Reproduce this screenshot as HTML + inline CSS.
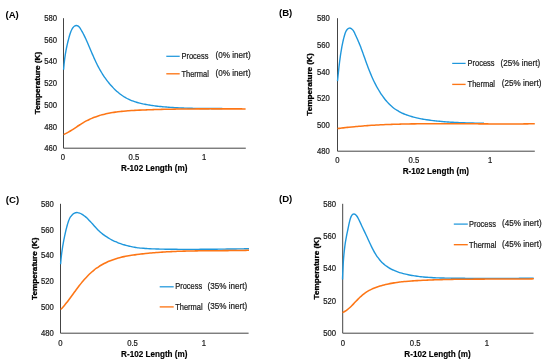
<!DOCTYPE html>
<html><head><meta charset="utf-8"><title>Temperature profiles</title>
<style>
html,body{margin:0;padding:0;background:#fff;}
svg{display:block;}
text{font-family:"Liberation Sans",sans-serif;fill:#1a1a1a;stroke:#1a1a1a;stroke-width:0.22px;}
.t{font-size:8.5px;}
.b{font-size:8.15px;font-weight:bold;fill:#000;stroke:#000;stroke-width:0.15px;}
.p{font-size:9.6px;font-weight:bold;fill:#000;stroke:none;}
.l1{font-size:8.4px;}
.l2{font-size:9.1px;}
</style></head><body>
<svg width="550" height="364" viewBox="0 0 550 364">
<rect width="550" height="364" fill="#fff"/>
<g>
<text class="p" x="5.5" y="17.7">(A)</text>
<text class="t" text-anchor="end" transform="translate(57.1 21.00) scale(0.905 1)">580</text>
<text class="t" text-anchor="end" transform="translate(57.1 42.70) scale(0.905 1)">560</text>
<text class="t" text-anchor="end" transform="translate(57.1 64.40) scale(0.905 1)">540</text>
<text class="t" text-anchor="end" transform="translate(57.1 86.10) scale(0.905 1)">520</text>
<text class="t" text-anchor="end" transform="translate(57.1 107.80) scale(0.905 1)">500</text>
<text class="t" text-anchor="end" transform="translate(57.1 129.50) scale(0.905 1)">480</text>
<text class="t" text-anchor="end" transform="translate(57.1 151.20) scale(0.905 1)">460</text>
<text class="t" text-anchor="middle" transform="translate(63.0 160.20) scale(0.905 1)">0</text>
<text class="t" text-anchor="middle" transform="translate(133.9 160.20) scale(0.905 1)">0.5</text>
<text class="t" text-anchor="middle" transform="translate(204.2 160.20) scale(0.905 1)">1</text>
<text class="b" text-anchor="middle" x="154.2" y="171.3">R-102 Length (m)</text>
<text class="b" style="font-size:6.8px;stroke-width:0.3px" text-anchor="middle" transform="translate(40.4 83.0) rotate(-90) scale(1.2 1)">Temperature (K)</text>
<path d="M63.5 18.2 V148.2 H245.8" fill="none" stroke="#444444" stroke-width="1"/>
<path d="M63.60 69.70 C63.63 69.34 63.71 68.27 63.77 67.55 C63.83 66.84 63.90 66.12 63.97 65.40 C64.03 64.69 64.11 63.97 64.18 63.26 C64.26 62.54 64.34 61.83 64.42 61.12 C64.50 60.40 64.59 59.69 64.68 58.98 C64.78 58.27 64.87 57.55 64.97 56.84 C65.07 56.13 65.18 55.42 65.29 54.71 C65.40 54.00 65.52 53.29 65.64 52.58 C65.76 51.88 65.88 51.17 66.01 50.46 C66.14 49.76 66.28 49.05 66.42 48.35 C66.56 47.64 66.71 46.94 66.86 46.24 C67.01 45.53 67.17 44.83 67.33 44.13 C67.49 43.43 67.66 42.73 67.83 42.03 C68.00 41.34 68.18 40.64 68.36 39.94 C68.54 39.25 68.72 38.55 68.91 37.86 C69.09 37.17 69.28 36.47 69.48 35.78 C69.67 35.09 69.87 34.40 70.09 33.72 C70.31 33.04 70.54 32.36 70.81 31.69 C71.08 31.03 71.36 30.37 71.69 29.73 C72.03 29.08 72.38 28.42 72.80 27.84 C73.23 27.25 73.69 26.60 74.27 26.21 C74.84 25.82 75.59 25.52 76.26 25.50 C76.93 25.47 77.70 25.73 78.28 26.09 C78.86 26.45 79.28 27.09 79.71 27.66 C80.15 28.23 80.51 28.88 80.89 29.50 C81.27 30.12 81.64 30.75 81.99 31.37 C82.35 32.00 82.70 32.63 83.03 33.27 C83.37 33.90 83.70 34.54 84.02 35.18 C84.34 35.82 84.65 36.46 84.96 37.11 C85.27 37.76 85.57 38.41 85.87 39.06 C86.17 39.71 86.47 40.36 86.76 41.02 C87.05 41.67 87.34 42.33 87.63 42.98 C87.92 43.64 88.20 44.30 88.48 44.96 C88.77 45.62 89.05 46.28 89.33 46.95 C89.61 47.61 89.89 48.27 90.17 48.93 C90.45 49.60 90.73 50.26 91.01 50.92 C91.29 51.59 91.57 52.25 91.86 52.91 C92.14 53.57 92.42 54.24 92.71 54.90 C92.99 55.56 93.28 56.22 93.57 56.88 C93.86 57.54 94.15 58.19 94.45 58.85 C94.74 59.50 95.04 60.16 95.34 60.81 C95.65 61.46 95.95 62.11 96.27 62.76 C96.58 63.41 96.89 64.05 97.21 64.70 C97.54 65.34 97.86 65.98 98.19 66.61 C98.53 67.25 98.87 67.88 99.21 68.51 C99.56 69.14 99.91 69.77 100.26 70.39 C100.62 71.01 100.98 71.63 101.35 72.24 C101.72 72.86 102.10 73.47 102.48 74.07 C102.87 74.68 103.26 75.28 103.65 75.88 C104.05 76.47 104.45 77.07 104.86 77.65 C105.27 78.24 105.69 78.82 106.12 79.40 C106.54 79.97 106.97 80.55 107.41 81.11 C107.85 81.68 108.30 82.24 108.75 82.79 C109.20 83.35 109.67 83.90 110.13 84.44 C110.60 84.98 111.08 85.52 111.56 86.05 C112.05 86.58 112.54 87.10 113.04 87.62 C113.54 88.13 114.05 88.65 114.57 89.15 C115.08 89.65 115.61 90.15 116.14 90.64 C116.67 91.12 117.21 91.60 117.76 92.08 C118.31 92.55 118.87 93.01 119.43 93.46 C120.00 93.91 120.57 94.35 121.15 94.78 C121.73 95.20 122.32 95.62 122.92 96.02 C123.52 96.42 124.12 96.81 124.73 97.18 C125.35 97.56 125.97 97.91 126.60 98.26 C127.23 98.60 127.87 98.92 128.51 99.23 C129.15 99.54 129.81 99.83 130.47 100.11 C131.13 100.39 131.79 100.65 132.46 100.90 C133.13 101.15 133.81 101.38 134.49 101.60 C135.17 101.83 135.86 102.04 136.55 102.24 C137.23 102.44 137.93 102.63 138.62 102.82 C139.32 103.00 140.01 103.17 140.71 103.34 C141.41 103.51 142.11 103.67 142.81 103.82 C143.52 103.98 144.22 104.12 144.92 104.27 C145.63 104.41 146.33 104.54 147.04 104.67 C147.75 104.80 148.45 104.92 149.16 105.04 C149.87 105.16 150.58 105.27 151.29 105.38 C152.00 105.48 152.72 105.59 153.43 105.68 C154.14 105.78 154.85 105.88 155.57 105.97 C156.28 106.06 156.99 106.14 157.71 106.22 C158.42 106.30 159.14 106.38 159.85 106.46 C160.57 106.53 161.28 106.60 162.00 106.67 C162.72 106.74 163.43 106.81 164.15 106.87 C164.86 106.94 165.58 107.00 166.30 107.06 C167.01 107.12 167.73 107.17 168.44 107.23 C169.16 107.28 169.88 107.33 170.59 107.38 C171.31 107.43 172.03 107.48 172.74 107.53 C173.46 107.57 174.18 107.61 174.90 107.66 C175.61 107.70 176.33 107.74 177.05 107.77 C177.76 107.81 178.48 107.84 179.20 107.88 C179.92 107.91 180.63 107.94 181.35 107.97 C182.07 108.00 182.79 108.03 183.50 108.06 C184.22 108.08 184.94 108.11 185.66 108.13 C186.38 108.16 187.09 108.18 187.81 108.20 C188.53 108.22 189.25 108.24 189.97 108.25 C190.68 108.27 191.40 108.29 192.12 108.30 C192.84 108.32 193.56 108.33 194.28 108.35 C194.99 108.36 195.71 108.37 196.43 108.38 C197.15 108.39 197.87 108.40 198.59 108.41 C199.30 108.42 200.02 108.43 200.74 108.43 C201.46 108.44 202.18 108.45 202.90 108.45 C203.62 108.46 204.33 108.46 205.05 108.47 C205.77 108.47 206.49 108.47 207.21 108.48 C207.93 108.48 208.65 108.48 209.36 108.48 C210.08 108.49 210.80 108.49 211.52 108.49 C212.24 108.49 212.96 108.49 213.68 108.49 C214.40 108.49 215.11 108.49 215.83 108.49 C216.55 108.50 217.27 108.50 217.99 108.50 C218.71 108.50 219.43 108.50 220.14 108.50 C220.86 108.50 221.94 108.50 222.30 108.50" fill="none" stroke="#1f97dc" stroke-width="1.4" stroke-linecap="butt" stroke-linejoin="round"/>
<path d="M63.60 134.60 C64.01 134.41 65.23 133.84 66.03 133.42 C66.83 133.01 67.62 132.57 68.40 132.13 C69.18 131.68 69.95 131.21 70.73 130.73 C71.50 130.26 72.26 129.77 73.02 129.28 C73.78 128.78 74.54 128.28 75.30 127.78 C76.06 127.28 76.81 126.77 77.57 126.27 C78.33 125.77 79.09 125.26 79.85 124.77 C80.62 124.28 81.38 123.79 82.16 123.32 C82.93 122.84 83.71 122.37 84.49 121.93 C85.28 121.48 86.07 121.04 86.88 120.63 C87.68 120.21 88.49 119.82 89.31 119.43 C90.13 119.05 90.96 118.69 91.79 118.34 C92.62 117.99 93.46 117.65 94.30 117.33 C95.15 117.01 96.00 116.71 96.85 116.42 C97.71 116.13 98.57 115.85 99.43 115.59 C100.29 115.33 101.16 115.08 102.03 114.84 C102.90 114.61 103.77 114.38 104.64 114.17 C105.52 113.96 106.40 113.76 107.28 113.57 C108.16 113.38 109.04 113.20 109.92 113.03 C110.81 112.86 111.70 112.71 112.59 112.56 C113.48 112.41 114.37 112.27 115.26 112.14 C116.15 112.01 117.05 111.89 117.94 111.77 C118.84 111.66 119.74 111.55 120.64 111.45 C121.54 111.36 122.44 111.26 123.34 111.18 C124.24 111.09 125.15 111.01 126.05 110.94 C126.96 110.86 127.86 110.80 128.77 110.73 C129.67 110.67 130.58 110.61 131.49 110.55 C132.39 110.50 133.30 110.44 134.21 110.40 C135.12 110.35 136.03 110.30 136.94 110.26 C137.84 110.21 138.75 110.17 139.66 110.13 C140.57 110.09 141.48 110.05 142.39 110.02 C143.29 109.98 144.20 109.94 145.11 109.91 C146.02 109.87 146.92 109.84 147.83 109.81 C148.74 109.77 149.64 109.74 150.55 109.71 C151.46 109.68 152.36 109.65 153.27 109.62 C154.18 109.59 155.08 109.57 155.99 109.54 C156.90 109.51 157.80 109.49 158.71 109.46 C159.61 109.44 160.52 109.41 161.42 109.39 C162.33 109.37 163.24 109.35 164.14 109.32 C165.05 109.30 165.95 109.28 166.86 109.26 C167.76 109.24 168.67 109.23 169.57 109.21 C170.48 109.19 171.38 109.17 172.29 109.16 C173.19 109.14 174.09 109.13 175.00 109.11 C175.90 109.10 176.81 109.08 177.71 109.07 C178.62 109.06 179.52 109.05 180.43 109.04 C181.33 109.02 182.23 109.01 183.14 109.00 C184.04 108.99 184.95 108.98 185.85 108.97 C186.75 108.96 187.66 108.96 188.56 108.95 C189.47 108.94 190.37 108.93 191.27 108.93 C192.18 108.92 193.08 108.91 193.99 108.91 C194.89 108.90 195.79 108.90 196.70 108.89 C197.60 108.89 198.51 108.88 199.41 108.88 C200.32 108.88 201.22 108.87 202.12 108.87 C203.03 108.87 203.93 108.86 204.84 108.86 C205.74 108.86 206.64 108.86 207.55 108.86 C208.45 108.86 209.36 108.85 210.26 108.85 C211.17 108.85 212.07 108.85 212.98 108.85 C213.88 108.85 214.79 108.85 215.69 108.85 C216.60 108.85 217.50 108.85 218.41 108.85 C219.31 108.86 220.22 108.86 221.12 108.86 C222.03 108.86 222.93 108.86 223.84 108.86 C224.74 108.86 225.65 108.86 226.55 108.87 C227.46 108.87 228.37 108.87 229.27 108.87 C230.18 108.87 231.08 108.87 231.99 108.88 C232.90 108.88 233.80 108.88 234.71 108.88 C235.62 108.88 236.52 108.89 237.43 108.89 C238.34 108.89 239.25 108.89 240.15 108.89 C241.06 108.89 241.97 108.90 242.88 108.90 C243.78 108.90 245.15 108.90 245.60 108.90" fill="none" stroke="#fd7616" stroke-width="1.55" stroke-linecap="butt" stroke-linejoin="round"/>
<line x1="166.3" y1="56.3" x2="179.7" y2="56.3" stroke="#1f97dc" stroke-width="1.25"/>
<text class="l1" transform="translate(181.5 58.80) scale(0.89 1)">Process</text>
<text class="l2" transform="translate(215.5 58.10) scale(0.89 1)">(0% inert)</text>
<line x1="166.3" y1="73.8" x2="179.7" y2="73.8" stroke="#fd7616" stroke-width="1.35"/>
<text class="l1" transform="translate(181.5 76.60) scale(0.89 1)">Thermal</text>
<text class="l2" transform="translate(215.5 75.90) scale(0.89 1)">(0% inert)</text>
</g>
<g>
<text class="p" x="279.0" y="16.4">(B)</text>
<text class="t" text-anchor="end" transform="translate(329.9 21.30) scale(0.905 1)">580</text>
<text class="t" text-anchor="end" transform="translate(329.9 47.90) scale(0.905 1)">560</text>
<text class="t" text-anchor="end" transform="translate(329.9 74.50) scale(0.905 1)">540</text>
<text class="t" text-anchor="end" transform="translate(329.9 101.10) scale(0.905 1)">520</text>
<text class="t" text-anchor="end" transform="translate(329.9 127.70) scale(0.905 1)">500</text>
<text class="t" text-anchor="end" transform="translate(329.9 154.30) scale(0.905 1)">480</text>
<text class="t" text-anchor="middle" transform="translate(337.3 163.00) scale(0.905 1)">0</text>
<text class="t" text-anchor="middle" transform="translate(413.9 163.00) scale(0.905 1)">0.5</text>
<text class="t" text-anchor="middle" transform="translate(490.2 163.00) scale(0.905 1)">1</text>
<text class="b" text-anchor="middle" x="435.9" y="174.2">R-102 Length (m)</text>
<text class="b" style="font-size:6.8px;stroke-width:0.3px" text-anchor="middle" transform="translate(312.3 84.5) rotate(-90) scale(1.2 1)">Temperature (K)</text>
<path d="M337.5 18.2 V151.2 H534.8" fill="none" stroke="#444444" stroke-width="1"/>
<path d="M337.50 81.10 C337.54 80.73 337.65 79.64 337.72 78.91 C337.80 78.17 337.87 77.44 337.95 76.71 C338.02 75.97 338.10 75.24 338.18 74.51 C338.25 73.77 338.33 73.04 338.41 72.30 C338.48 71.57 338.56 70.83 338.64 70.10 C338.72 69.36 338.80 68.63 338.89 67.89 C338.97 67.16 339.05 66.42 339.14 65.69 C339.22 64.95 339.31 64.22 339.40 63.48 C339.49 62.75 339.58 62.02 339.67 61.28 C339.76 60.55 339.86 59.81 339.96 59.08 C340.06 58.35 340.16 57.62 340.26 56.89 C340.36 56.15 340.47 55.42 340.58 54.69 C340.69 53.96 340.80 53.23 340.91 52.51 C341.03 51.78 341.15 51.05 341.27 50.32 C341.39 49.60 341.52 48.87 341.65 48.15 C341.78 47.43 341.91 46.70 342.05 45.98 C342.19 45.26 342.33 44.54 342.47 43.82 C342.62 43.10 342.77 42.39 342.93 41.67 C343.08 40.96 343.25 40.24 343.42 39.53 C343.59 38.81 343.77 38.10 343.96 37.38 C344.14 36.66 344.34 35.95 344.55 35.23 C344.77 34.51 344.97 33.78 345.24 33.07 C345.52 32.36 345.81 31.63 346.21 30.97 C346.61 30.31 347.10 29.58 347.64 29.10 C348.17 28.62 348.80 28.18 349.40 28.09 C350.01 27.99 350.67 28.19 351.26 28.53 C351.85 28.86 352.45 29.50 352.94 30.10 C353.42 30.70 353.82 31.44 354.19 32.12 C354.55 32.81 354.82 33.53 355.13 34.22 C355.45 34.90 355.76 35.57 356.07 36.24 C356.38 36.91 356.69 37.57 356.99 38.23 C357.30 38.90 357.60 39.57 357.89 40.24 C358.18 40.92 358.47 41.59 358.75 42.27 C359.04 42.95 359.31 43.63 359.59 44.31 C359.86 44.99 360.13 45.68 360.40 46.37 C360.67 47.05 360.93 47.74 361.19 48.43 C361.45 49.12 361.71 49.81 361.96 50.50 C362.22 51.20 362.47 51.89 362.72 52.58 C362.97 53.28 363.22 53.97 363.47 54.67 C363.72 55.36 363.97 56.06 364.22 56.76 C364.47 57.45 364.71 58.15 364.96 58.85 C365.21 59.54 365.46 60.24 365.71 60.94 C365.96 61.63 366.20 62.33 366.46 63.02 C366.71 63.72 366.96 64.41 367.22 65.11 C367.47 65.80 367.73 66.49 367.99 67.19 C368.25 67.88 368.52 68.57 368.78 69.26 C369.05 69.94 369.32 70.63 369.59 71.32 C369.87 72.00 370.15 72.69 370.43 73.37 C370.71 74.05 371.00 74.73 371.29 75.41 C371.58 76.08 371.87 76.76 372.18 77.43 C372.48 78.10 372.78 78.77 373.09 79.44 C373.40 80.11 373.72 80.78 374.04 81.44 C374.36 82.10 374.69 82.76 375.02 83.42 C375.35 84.08 375.69 84.73 376.04 85.38 C376.38 86.03 376.74 86.68 377.09 87.32 C377.45 87.97 377.82 88.61 378.19 89.25 C378.56 89.88 378.94 90.52 379.33 91.15 C379.71 91.78 380.11 92.40 380.51 93.02 C380.91 93.64 381.32 94.26 381.74 94.87 C382.15 95.48 382.58 96.09 383.01 96.69 C383.44 97.29 383.89 97.89 384.34 98.47 C384.79 99.06 385.25 99.64 385.71 100.22 C386.18 100.79 386.66 101.35 387.15 101.90 C387.64 102.46 388.14 103.00 388.65 103.53 C389.16 104.06 389.68 104.58 390.21 105.09 C390.75 105.60 391.29 106.09 391.85 106.57 C392.40 107.05 392.97 107.51 393.55 107.96 C394.13 108.40 394.73 108.84 395.34 109.25 C395.94 109.67 396.56 110.06 397.19 110.45 C397.82 110.83 398.46 111.20 399.11 111.55 C399.76 111.90 400.41 112.24 401.08 112.57 C401.74 112.89 402.42 113.20 403.09 113.50 C403.77 113.80 404.46 114.09 405.15 114.36 C405.83 114.63 406.53 114.89 407.22 115.15 C407.92 115.40 408.62 115.63 409.32 115.86 C410.02 116.09 410.73 116.31 411.43 116.52 C412.14 116.73 412.85 116.92 413.56 117.11 C414.28 117.30 414.99 117.48 415.71 117.66 C416.42 117.83 417.14 117.99 417.86 118.15 C418.58 118.31 419.31 118.46 420.03 118.60 C420.75 118.74 421.48 118.88 422.21 119.01 C422.93 119.14 423.66 119.26 424.39 119.38 C425.12 119.50 425.85 119.62 426.58 119.73 C427.31 119.84 428.04 119.94 428.77 120.04 C429.50 120.15 430.23 120.24 430.96 120.34 C431.70 120.43 432.43 120.52 433.16 120.61 C433.89 120.70 434.63 120.79 435.36 120.87 C436.09 120.95 436.83 121.03 437.56 121.10 C438.30 121.18 439.03 121.25 439.76 121.32 C440.50 121.39 441.23 121.46 441.97 121.53 C442.70 121.59 443.44 121.65 444.17 121.71 C444.91 121.77 445.65 121.83 446.38 121.88 C447.12 121.94 447.85 121.99 448.59 122.04 C449.33 122.09 450.06 122.14 450.80 122.18 C451.54 122.23 452.27 122.27 453.01 122.31 C453.75 122.36 454.49 122.39 455.22 122.43 C455.96 122.47 456.70 122.51 457.44 122.54 C458.17 122.58 458.91 122.61 459.65 122.64 C460.39 122.67 461.12 122.70 461.86 122.73 C462.60 122.76 463.34 122.78 464.08 122.81 C464.81 122.83 465.55 122.86 466.29 122.88 C467.03 122.90 467.77 122.93 468.51 122.95 C469.24 122.97 469.98 122.99 470.72 123.01 C471.46 123.03 472.20 123.05 472.93 123.06 C473.67 123.08 474.41 123.10 475.15 123.12 C475.89 123.13 476.62 123.15 477.36 123.16 C478.10 123.18 478.84 123.20 479.58 123.21 C480.31 123.23 481.05 123.24 481.79 123.26 C482.53 123.27 483.63 123.29 484.00 123.30" fill="none" stroke="#1f97dc" stroke-width="1.4" stroke-linecap="butt" stroke-linejoin="round"/>
<path d="M337.50 128.59 C337.97 128.53 339.39 128.35 340.34 128.23 C341.29 128.11 342.24 128.00 343.19 127.88 C344.13 127.77 345.08 127.66 346.03 127.55 C346.98 127.45 347.93 127.34 348.88 127.24 C349.83 127.14 350.78 127.05 351.72 126.95 C352.67 126.85 353.62 126.76 354.57 126.67 C355.52 126.58 356.47 126.50 357.42 126.41 C358.37 126.33 359.32 126.25 360.27 126.17 C361.22 126.09 362.17 126.01 363.12 125.94 C364.07 125.86 365.03 125.79 365.98 125.72 C366.93 125.65 367.88 125.59 368.83 125.52 C369.78 125.46 370.73 125.40 371.68 125.34 C372.63 125.28 373.59 125.22 374.54 125.16 C375.49 125.11 376.44 125.05 377.39 125.00 C378.34 124.95 379.30 124.90 380.25 124.85 C381.20 124.81 382.15 124.76 383.11 124.72 C384.06 124.67 385.01 124.63 385.96 124.59 C386.92 124.55 387.87 124.51 388.82 124.48 C389.77 124.44 390.73 124.41 391.68 124.37 C392.63 124.34 393.59 124.31 394.54 124.28 C395.49 124.25 396.45 124.22 397.40 124.19 C398.35 124.17 399.31 124.14 400.26 124.12 C401.21 124.09 402.17 124.07 403.12 124.05 C404.07 124.03 405.03 124.01 405.98 123.99 C406.93 123.97 407.89 123.96 408.84 123.94 C409.80 123.92 410.75 123.91 411.70 123.89 C412.66 123.88 413.61 123.87 414.57 123.86 C415.52 123.84 416.47 123.83 417.43 123.82 C418.38 123.81 419.34 123.80 420.29 123.80 C421.25 123.79 422.20 123.78 423.15 123.77 C424.11 123.77 425.06 123.76 426.02 123.75 C426.97 123.75 427.93 123.75 428.88 123.74 C429.83 123.74 430.79 123.73 431.74 123.73 C432.70 123.73 433.65 123.73 434.61 123.72 C435.56 123.72 436.52 123.72 437.47 123.72 C438.42 123.72 439.38 123.72 440.33 123.72 C441.29 123.72 442.24 123.72 443.20 123.72 C444.15 123.72 445.11 123.72 446.06 123.72 C447.01 123.72 447.97 123.73 448.92 123.73 C449.88 123.73 450.83 123.73 451.79 123.74 C452.74 123.74 453.70 123.74 454.65 123.74 C455.61 123.75 456.56 123.75 457.51 123.76 C458.47 123.76 459.42 123.76 460.38 123.77 C461.33 123.77 462.29 123.78 463.24 123.78 C464.20 123.78 465.15 123.79 466.10 123.79 C467.06 123.80 468.01 123.80 468.97 123.81 C469.92 123.81 470.88 123.82 471.83 123.82 C472.79 123.83 473.74 123.83 474.70 123.84 C475.65 123.84 476.60 123.85 477.56 123.85 C478.51 123.86 479.47 123.86 480.42 123.87 C481.38 123.87 482.33 123.87 483.29 123.88 C484.24 123.88 485.19 123.89 486.15 123.89 C487.10 123.90 488.06 123.90 489.01 123.90 C489.97 123.91 490.92 123.91 491.87 123.92 C492.83 123.92 493.78 123.92 494.74 123.93 C495.69 123.93 496.65 123.93 497.60 123.93 C498.55 123.94 499.51 123.94 500.46 123.94 C501.42 123.94 502.37 123.94 503.32 123.94 C504.28 123.94 505.23 123.95 506.19 123.95 C507.14 123.95 508.10 123.95 509.05 123.95 C510.00 123.94 510.96 123.94 511.91 123.94 C512.86 123.94 513.82 123.94 514.77 123.94 C515.73 123.93 516.68 123.93 517.63 123.93 C518.59 123.92 519.54 123.92 520.50 123.91 C521.45 123.91 522.40 123.90 523.36 123.90 C524.31 123.89 525.26 123.89 526.22 123.88 C527.17 123.87 528.13 123.86 529.08 123.85 C530.03 123.85 530.99 123.84 531.94 123.83 C532.89 123.82 534.32 123.80 534.80 123.79" fill="none" stroke="#fd7616" stroke-width="1.55" stroke-linecap="butt" stroke-linejoin="round"/>
<line x1="452.2" y1="63.4" x2="465.6" y2="63.4" stroke="#1f97dc" stroke-width="1.25"/>
<text class="l1" transform="translate(467.6 66.00) scale(0.89 1)">Process</text>
<text class="l2" transform="translate(500.6 65.60) scale(0.89 1)">(25% inert)</text>
<line x1="452.2" y1="84.4" x2="465.6" y2="84.4" stroke="#fd7616" stroke-width="1.35"/>
<text class="l1" transform="translate(467.6 86.50) scale(0.89 1)">Thermal</text>
<text class="l2" transform="translate(501.8 85.90) scale(0.89 1)">(25% inert)</text>
</g>
<g>
<text class="p" x="5.8" y="203.2">(C)</text>
<text class="t" text-anchor="end" transform="translate(53.8 206.60) scale(0.905 1)">580</text>
<text class="t" text-anchor="end" transform="translate(53.8 232.50) scale(0.905 1)">560</text>
<text class="t" text-anchor="end" transform="translate(53.8 258.40) scale(0.905 1)">540</text>
<text class="t" text-anchor="end" transform="translate(53.8 284.30) scale(0.905 1)">520</text>
<text class="t" text-anchor="end" transform="translate(53.8 310.20) scale(0.905 1)">500</text>
<text class="t" text-anchor="end" transform="translate(53.8 336.20) scale(0.905 1)">480</text>
<text class="t" text-anchor="middle" transform="translate(60.3 345.50) scale(0.905 1)">0</text>
<text class="t" text-anchor="middle" transform="translate(132.5 345.50) scale(0.905 1)">0.5</text>
<text class="t" text-anchor="middle" transform="translate(204.0 345.50) scale(0.905 1)">1</text>
<text class="b" text-anchor="middle" x="154.3" y="356.7">R-102 Length (m)</text>
<text class="b" style="font-size:6.8px;stroke-width:0.3px" text-anchor="middle" transform="translate(36.6 268.8) rotate(-90) scale(1.2 1)">Temperature (K)</text>
<path d="M60.5 203.8 V333.2 H248.6" fill="none" stroke="#444444" stroke-width="1"/>
<path d="M60.60 264.20 C60.63 263.83 60.71 262.74 60.77 262.01 C60.83 261.27 60.89 260.54 60.96 259.81 C61.03 259.08 61.10 258.35 61.18 257.62 C61.26 256.89 61.34 256.16 61.43 255.43 C61.51 254.70 61.60 253.98 61.69 253.25 C61.79 252.52 61.89 251.79 61.99 251.06 C62.09 250.34 62.19 249.61 62.30 248.88 C62.41 248.16 62.53 247.43 62.64 246.71 C62.76 245.98 62.88 245.26 63.00 244.53 C63.13 243.81 63.26 243.09 63.39 242.36 C63.52 241.64 63.66 240.92 63.79 240.20 C63.93 239.48 64.08 238.76 64.22 238.04 C64.37 237.32 64.52 236.60 64.67 235.88 C64.82 235.16 64.98 234.45 65.14 233.73 C65.30 233.01 65.46 232.30 65.62 231.58 C65.79 230.87 65.96 230.16 66.13 229.45 C66.31 228.73 66.48 228.02 66.67 227.31 C66.85 226.61 67.04 225.90 67.24 225.20 C67.44 224.49 67.65 223.79 67.87 223.09 C68.09 222.39 68.31 221.70 68.56 221.01 C68.81 220.32 69.06 219.63 69.38 218.96 C69.70 218.29 70.05 217.61 70.47 216.98 C70.89 216.34 71.38 215.71 71.90 215.16 C72.42 214.61 72.99 214.09 73.59 213.69 C74.19 213.30 74.84 212.96 75.50 212.77 C76.16 212.59 76.86 212.52 77.55 212.58 C78.24 212.64 78.97 212.89 79.66 213.15 C80.35 213.41 81.05 213.79 81.70 214.15 C82.36 214.52 82.98 214.92 83.59 215.34 C84.20 215.76 84.78 216.20 85.35 216.66 C85.92 217.13 86.47 217.61 87.00 218.11 C87.54 218.60 88.06 219.12 88.57 219.64 C89.08 220.16 89.58 220.70 90.08 221.24 C90.58 221.78 91.07 222.33 91.56 222.87 C92.05 223.42 92.53 223.98 93.03 224.53 C93.52 225.08 94.01 225.63 94.51 226.18 C95.01 226.72 95.51 227.27 96.01 227.81 C96.52 228.34 97.03 228.88 97.55 229.40 C98.06 229.93 98.59 230.44 99.12 230.95 C99.65 231.46 100.19 231.95 100.74 232.44 C101.29 232.92 101.85 233.40 102.42 233.85 C102.99 234.31 103.57 234.76 104.16 235.19 C104.75 235.62 105.34 236.04 105.95 236.45 C106.56 236.86 107.17 237.25 107.79 237.63 C108.42 238.02 109.05 238.39 109.68 238.75 C110.32 239.11 110.96 239.45 111.61 239.79 C112.27 240.13 112.92 240.45 113.59 240.77 C114.25 241.08 114.92 241.38 115.59 241.68 C116.26 241.97 116.94 242.25 117.62 242.53 C118.31 242.80 118.99 243.06 119.68 243.31 C120.37 243.57 121.07 243.81 121.76 244.04 C122.46 244.27 123.16 244.50 123.87 244.71 C124.57 244.93 125.27 245.13 125.98 245.33 C126.69 245.52 127.40 245.71 128.11 245.89 C128.83 246.06 129.54 246.23 130.26 246.39 C130.98 246.55 131.70 246.70 132.42 246.84 C133.14 246.98 133.86 247.12 134.59 247.24 C135.31 247.36 136.03 247.48 136.76 247.58 C137.49 247.69 138.21 247.79 138.94 247.88 C139.67 247.97 140.40 248.05 141.13 248.12 C141.86 248.19 142.59 248.26 143.32 248.32 C144.05 248.38 144.78 248.43 145.51 248.48 C146.24 248.53 146.98 248.58 147.71 248.62 C148.44 248.66 149.17 248.70 149.91 248.73 C150.64 248.77 151.37 248.80 152.11 248.83 C152.84 248.86 153.57 248.88 154.31 248.91 C155.04 248.94 155.77 248.96 156.51 248.99 C157.24 249.01 157.97 249.03 158.71 249.05 C159.44 249.07 160.18 249.09 160.91 249.11 C161.64 249.13 162.38 249.14 163.11 249.16 C163.85 249.17 164.58 249.19 165.31 249.20 C166.05 249.21 166.78 249.22 167.52 249.23 C168.25 249.25 168.98 249.26 169.72 249.26 C170.45 249.27 171.19 249.28 171.92 249.29 C172.66 249.30 173.39 249.30 174.12 249.31 C174.86 249.31 175.59 249.32 176.33 249.32 C177.06 249.33 177.79 249.33 178.53 249.33 C179.26 249.34 180.00 249.34 180.73 249.34 C181.47 249.35 182.20 249.35 182.93 249.35 C183.67 249.35 184.40 249.35 185.14 249.35 C185.87 249.35 186.61 249.36 187.34 249.36 C188.07 249.36 188.81 249.36 189.54 249.35 C190.28 249.35 191.01 249.35 191.74 249.35 C192.48 249.35 193.21 249.35 193.95 249.35 C194.68 249.34 195.41 249.34 196.15 249.34 C196.88 249.34 197.62 249.33 198.35 249.33 C199.09 249.33 199.82 249.32 200.55 249.32 C201.29 249.31 202.02 249.31 202.76 249.30 C203.49 249.30 204.22 249.30 204.96 249.29 C205.69 249.28 206.43 249.28 207.16 249.27 C207.89 249.27 208.63 249.26 209.36 249.26 C210.10 249.25 210.83 249.24 211.56 249.24 C212.30 249.23 213.03 249.22 213.77 249.21 C214.50 249.21 215.23 249.20 215.97 249.19 C216.70 249.18 217.44 249.18 218.17 249.17 C218.90 249.16 219.64 249.15 220.37 249.14 C221.11 249.13 221.84 249.13 222.57 249.12 C223.31 249.11 224.04 249.10 224.78 249.09 C225.51 249.08 226.24 249.07 226.98 249.06 C227.71 249.05 228.45 249.04 229.18 249.03 C229.91 249.02 230.65 249.01 231.38 249.00 C232.12 248.99 232.85 248.98 233.58 248.97 C234.32 248.96 235.05 248.95 235.79 248.94 C236.52 248.93 237.25 248.92 237.99 248.91 C238.72 248.90 239.46 248.89 240.19 248.88 C240.92 248.87 241.66 248.86 242.39 248.85 C243.13 248.84 243.86 248.83 244.60 248.82 C245.33 248.80 246.06 248.79 246.80 248.78 C247.53 248.77 248.63 248.76 249.00 248.75" fill="none" stroke="#1f97dc" stroke-width="1.4" stroke-linecap="butt" stroke-linejoin="round"/>
<path d="M60.61 309.60 C60.94 309.24 61.97 308.16 62.63 307.42 C63.30 306.68 63.95 305.92 64.59 305.15 C65.23 304.38 65.86 303.60 66.49 302.81 C67.12 302.02 67.74 301.22 68.35 300.41 C68.97 299.60 69.58 298.78 70.18 297.96 C70.79 297.14 71.39 296.31 72.00 295.48 C72.60 294.65 73.21 293.82 73.81 292.99 C74.42 292.16 75.02 291.32 75.64 290.49 C76.25 289.66 76.86 288.83 77.48 288.00 C78.11 287.18 78.73 286.36 79.36 285.54 C80.00 284.73 80.64 283.92 81.29 283.12 C81.94 282.32 82.59 281.53 83.26 280.75 C83.92 279.97 84.59 279.20 85.28 278.44 C85.96 277.68 86.66 276.93 87.36 276.20 C88.07 275.47 88.78 274.75 89.51 274.05 C90.24 273.35 90.98 272.66 91.74 271.99 C92.49 271.33 93.26 270.68 94.05 270.05 C94.83 269.42 95.63 268.81 96.44 268.23 C97.25 267.64 98.08 267.08 98.92 266.53 C99.76 265.99 100.62 265.47 101.48 264.96 C102.35 264.46 103.23 263.98 104.12 263.52 C105.01 263.06 105.92 262.62 106.83 262.19 C107.74 261.77 108.67 261.37 109.60 260.99 C110.53 260.61 111.47 260.24 112.42 259.90 C113.37 259.56 114.33 259.23 115.30 258.92 C116.26 258.62 117.23 258.33 118.21 258.06 C119.19 257.79 120.18 257.54 121.16 257.30 C122.15 257.06 123.15 256.84 124.15 256.63 C125.14 256.42 126.15 256.23 127.15 256.05 C128.16 255.86 129.17 255.69 130.18 255.53 C131.19 255.36 132.20 255.21 133.21 255.06 C134.23 254.91 135.24 254.77 136.26 254.64 C137.27 254.50 138.28 254.37 139.30 254.24 C140.31 254.12 141.33 254.00 142.34 253.88 C143.36 253.76 144.37 253.65 145.39 253.54 C146.40 253.43 147.41 253.33 148.43 253.23 C149.44 253.13 150.46 253.04 151.47 252.94 C152.49 252.85 153.50 252.77 154.52 252.68 C155.53 252.60 156.55 252.52 157.56 252.44 C158.58 252.36 159.59 252.29 160.60 252.22 C161.62 252.15 162.63 252.08 163.65 252.02 C164.66 251.96 165.68 251.90 166.69 251.84 C167.71 251.78 168.72 251.73 169.74 251.68 C170.75 251.63 171.77 251.58 172.78 251.53 C173.80 251.49 174.81 251.45 175.83 251.41 C176.84 251.37 177.86 251.33 178.87 251.29 C179.89 251.26 180.90 251.22 181.92 251.19 C182.93 251.16 183.95 251.13 184.96 251.11 C185.98 251.08 186.99 251.05 188.01 251.03 C189.02 251.01 190.04 250.98 191.05 250.96 C192.07 250.94 193.09 250.93 194.10 250.91 C195.12 250.89 196.13 250.88 197.15 250.86 C198.16 250.85 199.18 250.83 200.19 250.82 C201.21 250.81 202.23 250.80 203.24 250.79 C204.26 250.78 205.27 250.77 206.29 250.76 C207.31 250.75 208.32 250.74 209.34 250.74 C210.35 250.73 211.37 250.72 212.39 250.71 C213.40 250.71 214.42 250.70 215.44 250.70 C216.45 250.69 217.47 250.68 218.48 250.68 C219.50 250.67 220.52 250.66 221.53 250.66 C222.55 250.65 223.57 250.64 224.58 250.64 C225.60 250.63 226.62 250.62 227.63 250.61 C228.65 250.61 229.67 250.60 230.69 250.59 C231.70 250.58 232.72 250.57 233.74 250.56 C234.75 250.55 235.77 250.53 236.79 250.52 C237.81 250.51 238.82 250.49 239.84 250.48 C240.86 250.46 241.88 250.45 242.89 250.43 C243.91 250.41 244.93 250.39 245.95 250.37 C246.96 250.35 248.49 250.31 249.00 250.30" fill="none" stroke="#fd7616" stroke-width="1.55" stroke-linecap="butt" stroke-linejoin="round"/>
<line x1="159.7" y1="286.8" x2="173.7" y2="286.8" stroke="#1f97dc" stroke-width="1.25"/>
<text class="l1" transform="translate(175.2 289.40) scale(0.89 1)">Process</text>
<text class="l2" transform="translate(207.5 288.60) scale(0.89 1)">(35% inert)</text>
<line x1="159.7" y1="306.9" x2="173.7" y2="306.9" stroke="#fd7616" stroke-width="1.35"/>
<text class="l1" transform="translate(175.2 309.50) scale(0.89 1)">Thermal</text>
<text class="l2" transform="translate(207.5 308.70) scale(0.89 1)">(35% inert)</text>
</g>
<g>
<text class="p" x="279.0" y="201.6">(D)</text>
<text class="t" text-anchor="end" transform="translate(336.1 206.60) scale(0.905 1)">580</text>
<text class="t" text-anchor="end" transform="translate(336.1 239.00) scale(0.905 1)">560</text>
<text class="t" text-anchor="end" transform="translate(336.1 271.40) scale(0.905 1)">540</text>
<text class="t" text-anchor="end" transform="translate(336.1 303.80) scale(0.905 1)">520</text>
<text class="t" text-anchor="end" transform="translate(336.1 336.20) scale(0.905 1)">500</text>
<text class="t" text-anchor="middle" transform="translate(342.9 345.50) scale(0.905 1)">0</text>
<text class="t" text-anchor="middle" transform="translate(415.2 345.50) scale(0.905 1)">0.5</text>
<text class="t" text-anchor="middle" transform="translate(486.9 345.50) scale(0.905 1)">1</text>
<text class="b" text-anchor="middle" x="437.5" y="356.7">R-102 Length (m)</text>
<text class="b" style="font-size:6.8px;stroke-width:0.3px" text-anchor="middle" transform="translate(319.3 268.3) rotate(-90) scale(1.2 1)">Temperature (K)</text>
<path d="M342.7 203.8 V333.2 H533.5" fill="none" stroke="#444444" stroke-width="1"/>
<path d="M342.50 279.50 C342.52 279.07 342.57 277.79 342.60 276.93 C342.63 276.08 342.67 275.22 342.70 274.37 C342.74 273.51 342.77 272.66 342.81 271.80 C342.85 270.95 342.89 270.09 342.93 269.24 C342.97 268.39 343.01 267.53 343.06 266.68 C343.10 265.83 343.15 264.97 343.20 264.12 C343.25 263.27 343.30 262.41 343.36 261.56 C343.42 260.71 343.48 259.86 343.54 259.01 C343.60 258.15 343.67 257.30 343.74 256.45 C343.81 255.60 343.89 254.75 343.97 253.90 C344.05 253.05 344.14 252.20 344.23 251.35 C344.32 250.50 344.41 249.65 344.51 248.80 C344.61 247.96 344.72 247.11 344.83 246.26 C344.95 245.41 345.07 244.56 345.19 243.72 C345.32 242.87 345.45 242.02 345.59 241.18 C345.73 240.33 345.88 239.49 346.03 238.64 C346.18 237.80 346.34 236.95 346.50 236.11 C346.66 235.27 346.83 234.43 347.00 233.59 C347.17 232.75 347.34 231.91 347.52 231.08 C347.69 230.24 347.86 229.41 348.04 228.58 C348.21 227.75 348.38 226.92 348.55 226.10 C348.72 225.27 348.89 224.45 349.08 223.62 C349.26 222.79 349.45 221.97 349.67 221.13 C349.89 220.29 350.11 219.43 350.39 218.59 C350.67 217.75 350.90 216.80 351.35 216.07 C351.80 215.34 352.43 214.52 353.07 214.22 C353.72 213.93 354.56 213.96 355.21 214.30 C355.85 214.63 356.43 215.51 356.95 216.23 C357.47 216.94 357.91 217.80 358.33 218.57 C358.75 219.34 359.11 220.11 359.47 220.87 C359.84 221.63 360.17 222.39 360.52 223.16 C360.87 223.92 361.23 224.68 361.59 225.45 C361.94 226.22 362.31 226.99 362.67 227.76 C363.03 228.54 363.40 229.31 363.77 230.08 C364.14 230.86 364.51 231.64 364.87 232.41 C365.24 233.19 365.61 233.97 365.98 234.75 C366.34 235.52 366.71 236.30 367.07 237.08 C367.43 237.86 367.79 238.64 368.15 239.42 C368.51 240.20 368.86 240.98 369.22 241.75 C369.57 242.53 369.92 243.30 370.28 244.07 C370.64 244.85 371.00 245.62 371.37 246.38 C371.74 247.15 372.11 247.91 372.50 248.66 C372.88 249.42 373.28 250.17 373.69 250.92 C374.09 251.67 374.51 252.41 374.95 253.14 C375.39 253.87 375.85 254.60 376.32 255.32 C376.80 256.03 377.29 256.74 377.80 257.44 C378.31 258.13 378.84 258.82 379.39 259.48 C379.93 260.15 380.50 260.80 381.09 261.42 C381.67 262.05 382.28 262.66 382.90 263.24 C383.53 263.82 384.17 264.38 384.84 264.92 C385.50 265.45 386.18 265.96 386.87 266.44 C387.57 266.93 388.28 267.39 389.01 267.83 C389.73 268.27 390.48 268.69 391.23 269.09 C391.98 269.48 392.74 269.86 393.52 270.21 C394.29 270.57 395.08 270.90 395.87 271.21 C396.66 271.52 397.47 271.82 398.28 272.10 C399.09 272.37 399.90 272.63 400.72 272.88 C401.54 273.12 402.37 273.35 403.20 273.57 C404.03 273.79 404.87 273.99 405.71 274.18 C406.54 274.38 407.39 274.56 408.23 274.73 C409.07 274.91 409.91 275.07 410.75 275.23 C411.59 275.38 412.44 275.53 413.28 275.67 C414.12 275.81 414.97 275.94 415.82 276.06 C416.66 276.18 417.51 276.30 418.35 276.41 C419.20 276.52 420.05 276.62 420.90 276.71 C421.75 276.81 422.59 276.89 423.44 276.98 C424.29 277.06 425.14 277.14 425.99 277.21 C426.84 277.28 427.70 277.34 428.55 277.40 C429.40 277.46 430.25 277.52 431.10 277.57 C431.96 277.62 432.81 277.67 433.66 277.71 C434.51 277.75 435.37 277.79 436.22 277.83 C437.08 277.86 437.93 277.89 438.78 277.92 C439.64 277.95 440.49 277.97 441.35 278.00 C442.20 278.02 443.06 278.04 443.91 278.06 C444.77 278.08 445.62 278.10 446.48 278.11 C447.33 278.13 448.19 278.14 449.04 278.15 C449.90 278.16 450.75 278.18 451.61 278.19 C452.47 278.20 453.32 278.21 454.18 278.22 C455.03 278.23 455.89 278.24 456.74 278.25 C457.60 278.26 458.45 278.27 459.31 278.27 C460.16 278.28 461.02 278.29 461.87 278.30 C462.73 278.30 463.58 278.31 464.44 278.32 C465.29 278.32 466.15 278.33 467.00 278.33 C467.86 278.34 468.71 278.34 469.57 278.35 C470.42 278.35 471.28 278.36 472.14 278.36 C472.99 278.36 473.85 278.37 474.70 278.37 C475.56 278.37 476.41 278.37 477.27 278.38 C478.12 278.38 478.98 278.38 479.83 278.38 C480.69 278.38 481.54 278.38 482.40 278.39 C483.25 278.39 484.11 278.39 484.96 278.39 C485.82 278.39 486.67 278.39 487.53 278.39 C488.38 278.39 489.24 278.39 490.09 278.39 C490.95 278.39 491.80 278.39 492.66 278.38 C493.51 278.38 494.37 278.38 495.22 278.38 C496.08 278.38 496.93 278.38 497.79 278.38 C498.64 278.37 499.50 278.37 500.35 278.37 C501.21 278.37 502.06 278.37 502.92 278.37 C503.77 278.36 504.63 278.36 505.48 278.36 C506.34 278.36 507.19 278.35 508.05 278.35 C508.90 278.35 509.76 278.35 510.61 278.35 C511.47 278.34 512.32 278.34 513.18 278.34 C514.03 278.34 514.89 278.33 515.74 278.33 C516.60 278.33 517.45 278.33 518.31 278.33 C519.16 278.32 520.02 278.32 520.87 278.32 C521.73 278.32 522.58 278.32 523.44 278.31 C524.29 278.31 525.15 278.31 526.00 278.31 C526.86 278.31 527.71 278.31 528.57 278.31 C529.42 278.30 530.28 278.30 531.13 278.30 C531.99 278.30 533.27 278.30 533.70 278.30" fill="none" stroke="#1f97dc" stroke-width="1.4" stroke-linecap="butt" stroke-linejoin="round"/>
<path d="M342.50 312.60 C342.93 312.37 344.23 311.72 345.05 311.22 C345.87 310.72 346.65 310.16 347.42 309.58 C348.18 309.00 348.91 308.37 349.63 307.73 C350.35 307.09 351.04 306.41 351.73 305.73 C352.42 305.04 353.10 304.33 353.77 303.63 C354.45 302.92 355.11 302.20 355.78 301.49 C356.46 300.77 357.12 300.06 357.81 299.36 C358.49 298.66 359.18 297.96 359.89 297.30 C360.60 296.63 361.32 295.97 362.06 295.34 C362.79 294.72 363.54 294.11 364.32 293.53 C365.09 292.95 365.88 292.39 366.69 291.88 C367.50 291.36 368.33 290.87 369.18 290.41 C370.03 289.95 370.90 289.53 371.78 289.13 C372.66 288.73 373.56 288.36 374.47 288.01 C375.37 287.65 376.28 287.32 377.20 287.01 C378.11 286.69 379.03 286.39 379.95 286.11 C380.88 285.82 381.80 285.55 382.73 285.30 C383.66 285.04 384.60 284.80 385.54 284.57 C386.47 284.35 387.41 284.13 388.36 283.93 C389.30 283.73 390.25 283.54 391.20 283.37 C392.15 283.19 393.10 283.02 394.05 282.87 C395.01 282.71 395.97 282.57 396.92 282.43 C397.88 282.30 398.84 282.17 399.81 282.05 C400.77 281.93 401.74 281.83 402.70 281.72 C403.67 281.62 404.63 281.53 405.60 281.44 C406.57 281.35 407.54 281.27 408.51 281.19 C409.48 281.11 410.45 281.04 411.43 280.97 C412.40 280.91 413.37 280.84 414.34 280.78 C415.32 280.72 416.29 280.67 417.26 280.61 C418.23 280.56 419.21 280.51 420.18 280.46 C421.15 280.41 422.12 280.36 423.10 280.31 C424.07 280.26 425.04 280.22 426.01 280.18 C426.98 280.13 427.96 280.09 428.93 280.05 C429.90 280.01 430.87 279.97 431.84 279.94 C432.81 279.90 433.78 279.87 434.75 279.83 C435.73 279.80 436.70 279.77 437.67 279.74 C438.64 279.71 439.61 279.68 440.58 279.65 C441.55 279.62 442.52 279.60 443.49 279.57 C444.46 279.55 445.43 279.53 446.40 279.50 C447.37 279.48 448.34 279.46 449.31 279.44 C450.28 279.42 451.25 279.40 452.22 279.38 C453.19 279.37 454.16 279.35 455.13 279.33 C456.10 279.32 457.07 279.30 458.04 279.29 C459.00 279.28 459.97 279.26 460.94 279.25 C461.91 279.24 462.88 279.23 463.85 279.22 C464.82 279.21 465.79 279.20 466.76 279.19 C467.73 279.18 468.70 279.18 469.67 279.17 C470.63 279.16 471.60 279.15 472.57 279.15 C473.54 279.14 474.51 279.14 475.48 279.13 C476.45 279.13 477.42 279.12 478.39 279.12 C479.36 279.11 480.33 279.11 481.29 279.11 C482.26 279.10 483.23 279.10 484.20 279.10 C485.17 279.10 486.14 279.09 487.11 279.09 C488.08 279.09 489.05 279.09 490.02 279.09 C490.99 279.08 491.96 279.08 492.92 279.08 C493.89 279.08 494.86 279.08 495.83 279.08 C496.80 279.07 497.77 279.07 498.74 279.07 C499.71 279.07 500.68 279.07 501.65 279.07 C502.62 279.06 503.59 279.06 504.56 279.06 C505.53 279.06 506.50 279.06 507.47 279.05 C508.44 279.05 509.41 279.05 510.38 279.04 C511.35 279.04 512.32 279.04 513.29 279.03 C514.26 279.03 515.24 279.02 516.21 279.02 C517.18 279.01 518.15 279.01 519.12 279.00 C520.09 278.99 521.06 278.99 522.03 278.98 C523.01 278.97 523.98 278.96 524.95 278.95 C525.92 278.94 526.89 278.93 527.87 278.92 C528.84 278.91 529.81 278.90 530.78 278.89 C531.76 278.88 533.21 278.86 533.70 278.85" fill="none" stroke="#fd7616" stroke-width="1.55" stroke-linecap="butt" stroke-linejoin="round"/>
<line x1="453.8" y1="224.1" x2="467.8" y2="224.1" stroke="#1f97dc" stroke-width="1.25"/>
<text class="l1" transform="translate(469.0 226.90) scale(0.89 1)">Process</text>
<text class="l2" transform="translate(502.1 226.00) scale(0.89 1)">(45% inert)</text>
<line x1="453.8" y1="244.7" x2="467.8" y2="244.7" stroke="#fd7616" stroke-width="1.35"/>
<text class="l1" transform="translate(469.0 247.50) scale(0.89 1)">Thermal</text>
<text class="l2" transform="translate(502.1 246.60) scale(0.89 1)">(45% inert)</text>
</g>
</svg>
</body></html>
